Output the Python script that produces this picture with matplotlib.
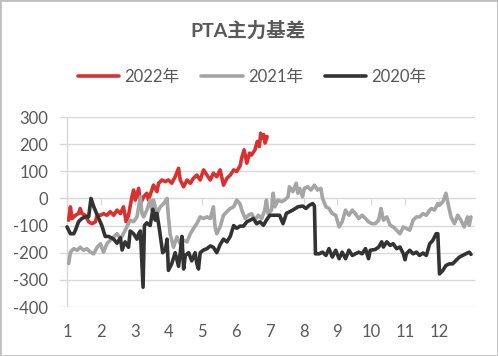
import matplotlib
matplotlib.use('Agg')
import matplotlib.pyplot as plt
from matplotlib.patches import Rectangle

plt.rcParams['font.family'] = ['Lato', 'Noto Sans CJK SC']

# ---------------- data (x = month position, y = basis) ----------------
x2022 = [1.05, 1.10, 1.15, 1.25, 1.34, 1.39, 1.44, 1.54, 1.64, 1.74, 1.84, 1.89, 1.99, 2.08,
         2.18, 2.28, 2.38, 2.48, 2.58, 2.67, 2.75, 2.82, 2.92, 2.97, 3.02, 3.12, 3.17, 3.27,
         3.36, 3.41, 3.51, 3.56, 3.66, 3.71, 3.81, 3.91, 4.00, 4.10, 4.20, 4.30, 4.35, 4.45,
         4.55, 4.65, 4.74, 4.84, 4.94, 5.04, 5.14, 5.24, 5.33, 5.43, 5.53, 5.63, 5.73, 5.83,
         5.93, 6.02, 6.12, 6.17, 6.24, 6.32, 6.40, 6.46, 6.56, 6.63, 6.69, 6.73, 6.79, 6.82,
         6.86, 6.92]
y2022 = [-80, -31, -74, -62, -56, -37, -56, -62, -86, -93, -86, -62, -62, -56,
         -62, -49, -62, -43, -56, -31, -86, -62, 6, 31, -6, 37, -19, 6,
         19, -6, 31, 49, 25, 56, 68, 62, 68, 56, 80, 111, 68, 43,
         68, 56, 74, 86, 68, 105, 86, 68, 93, 80, 105, 49, 74, 86,
         105, 99, 120, 150, 179, 130, 167, 160, 179, 210, 191, 240, 222, 235,
         204, 228]

x2021 = [1.05, 1.10, 1.20, 1.30, 1.39, 1.49, 1.59, 1.69, 1.79, 1.89, 1.99, 2.08, 2.18, 2.28,
         2.38, 2.48, 2.58, 2.67, 2.77, 2.87, 2.97, 3.07, 3.17, 3.22, 3.27, 3.36, 3.46, 3.51,
         3.56, 3.66, 3.76, 3.86, 3.96, 4.00, 4.05, 4.15, 4.25, 4.35, 4.45, 4.55, 4.65, 4.74,
         4.84, 4.94, 5.04, 5.14, 5.24, 5.33, 5.38, 5.43, 5.53, 5.63, 5.73, 5.83, 5.93, 6.02,
         6.12, 6.17, 6.27, 6.37, 6.46, 6.56, 6.66, 6.76, 6.85, 6.90, 6.95, 7.05, 7.10, 7.15,
         7.24, 7.34, 7.44, 7.54, 7.58, 7.68, 7.78, 7.83, 7.88, 7.97, 8.02, 8.12, 8.22, 8.32,
         8.41, 8.51, 8.56, 8.66, 8.75, 8.85, 8.95, 9.05, 9.14, 9.24, 9.34, 9.44, 9.53, 9.63,
         9.73, 9.83, 9.92, 10.02, 10.12, 10.22, 10.29, 10.36, 10.46, 10.56, 10.65, 10.75,
         10.85, 10.95, 11.04, 11.14, 11.24, 11.34, 11.43, 11.53, 11.63, 11.73, 11.78, 11.87,
         11.97, 12.02, 12.12, 12.21, 12.26, 12.36, 12.46, 12.56, 12.65, 12.75, 12.85, 12.90,
         12.95]
y2021 = [-240, -198, -185, -191, -180, -191, -185, -198, -204, -180, -167, -198, -167, -154,
         -142, -130, -148, -130, -105, -80, -86, -68, 6, -56, -68, -43, -6, -43,
         -6, -56, -31, -19, 0, -68, -130, -180, -142, -167, -154, -160, -130, -111,
         -93, -68, -74, -68, -74, -31, -105, -130, -105, -62, -49, -37, -31, -6,
         -20, -43, -74, -62, -56, -80, -62, -74, -43, -6, -56, -43, 19, -31,
         -6, -12, -6, 6, 43, 25, 56, 19, 37, 6, 37, 43, 31, 49,
         31, 37, 0, -31, -37, -56, -62, -105, -86, -43, -62, -43, -56, -74,
         -62, -74, -86, -93, -93, -80, -37, -80, -68, -99, -105, -117,
         -130, -105, -111, -117, -80, -68, -68, -56, -62, -43, -37, -43,
         -19, -25, -12, 19, -12, -68, -93, -62, -80, -105, -68, -99,
         -68]

x2020 = [1.00, 1.10, 1.20, 1.25, 1.34, 1.44, 1.54, 1.64, 1.71, 1.79, 1.89, 2.03, 2.13, 2.23,
         2.38, 2.48, 2.58, 2.63, 2.72, 2.82, 2.87, 2.97, 3.07, 3.12, 3.17, 3.25, 3.29, 3.36,
         3.46, 3.54, 3.61, 3.66, 3.73, 3.83, 3.91, 3.96, 4.00, 4.10, 4.20, 4.30, 4.35, 4.40,
         4.45, 4.50, 4.60, 4.69, 4.79, 4.84, 4.89, 4.94, 5.04, 5.14, 5.24, 5.33, 5.43, 5.53,
         5.63, 5.73, 5.83, 5.93, 6.02, 6.12, 6.22, 6.32, 6.42, 6.51, 6.61, 6.71, 6.81, 6.90,
         7.00, 7.10, 7.29, 7.39, 7.49, 7.68, 7.83, 7.97, 8.07, 8.17, 8.27, 8.32, 8.35, 8.46,
         8.56, 8.66, 8.75, 8.85, 8.95, 9.05, 9.14, 9.24, 9.34, 9.44, 9.53, 9.63, 9.73, 9.83,
         9.92, 9.97, 10.12, 10.22, 10.31, 10.36, 10.46, 10.56, 10.65, 10.75, 10.85, 10.95,
         11.00, 11.04, 11.14, 11.24, 11.34, 11.43, 11.53, 11.63, 11.73, 11.82, 11.92, 11.97,
         12.02, 12.12, 12.21, 12.31, 12.41, 12.51, 12.61, 12.70, 12.80, 12.90, 12.95]
y2020 = [-105, -130, -130, -117, -86, -74, -68, -68, 0, -30, -60, -100, -140, -140,
         -150, -165, -145, -190, -160, -180, -120, -130, -150, -130, -120, -327, -100, -90,
         -100, -40, -80, -55, -110, -200, -190, -150, -265, -240, -200, -250, -200, -140,
         -260, -210, -200, -230, -200, -240, -260, -200, -190, -185, -175, -180, -200, -170,
         -150, -160, -140, -100, -110, -102, -102, -86, -80, -74, -93, -86, -99, -80,
         -62, -62, -62, -93, -55, -43, -31, -28, -37, -25, -19, -28, -204, -204,
         -198, -210, -185, -216, -191, -222, -198, -222, -191, -210, -204, -198, -204, -185,
         -222, -191, -188, -179, -160, -179, -160, -173, -167, -185, -179, -204,
         -226, -204, -191, -204, -198, -210, -201, -210, -167, -155, -130, -130,
         -278, -265, -247, -241, -241, -228, -216, -210, -204, -198, -206]

months = [1, 2, 3, 4, 5, 6, 7, 8, 9, 10, 11, 12]
month_labels = ['1', '2', '3', '4', '5', '6', '7', '8', '9', '10', '11', '12']
yticks = [300, 200, 100, 0, -100, -200, -300, -400]
ytick_labels = ['300', '200', '100', '0', '-100', '-200', '-300', '-400']
series_names = ['2022年', '2021年', '2020年']
colors = ['#d93030', '#a5a5a5', '#333333']

TXT = '#595959'
GRID = '#d9d9d9'

fig = plt.figure(figsize=(4.98, 3.56), dpi=100)
ax = fig.add_axes([60 / 498, 1 - 307 / 356, 415 / 498, 190 / 356])

handles = []
for xs, ys, name, c in zip([x2022, x2021, x2020], [y2022, y2021, y2020], series_names, colors):
    h, = ax.plot(xs, ys, color=c, lw=2.6, solid_joinstyle='round', solid_capstyle='round',
                 label=name, zorder=3)
    handles.append(h)

ax.set_xlim(1 - 7 / 33.8, 13.07)
ax.set_ylim(-400, 300)
ax.set_yticks(yticks)
ax.set_yticklabels(ytick_labels)
ax.grid(axis='y', color=GRID, lw=1)
ax.set_axisbelow(True)
for s in ['top', 'right', 'left']:
    ax.spines[s].set_visible(False)
ax.spines['bottom'].set_position(('data', 0))
ax.spines['bottom'].set_color(GRID)
ax.axvline(1, color=GRID, lw=1, zorder=1)

ax.set_xticks(months)
ax.tick_params(axis='x', direction='out', length=5, color=GRID, labelbottom=False)
ax.tick_params(axis='y', length=0, pad=8.6, labelcolor=TXT, labelsize=12)

sec = ax.secondary_xaxis('bottom')
sec.set_xticks(months)
sec.set_xticklabels(month_labels)
sec.tick_params(length=0, pad=12, labelsize=12, labelcolor=TXT)
sec.spines['bottom'].set_visible(False)

fig.text(0.498, 1 - 30 / 356, 'PTA主力基差', ha='center', va='center', fontsize=14,
         fontweight='bold', color=TXT)

fig.legend(handles, series_names, loc='center', bbox_to_anchor=(0.506, 1 - 77 / 356),
           ncol=3, frameon=False, fontsize=12, handlelength=2.5, handletextpad=0.3,
           columnspacing=1.3, labelcolor=TXT)

fig.patches.append(Rectangle((0, 0), 1, 1, transform=fig.transFigure, fill=False,
                             edgecolor='#bfbfbf', lw=2))

fig.savefig('out.png', dpi=100)
